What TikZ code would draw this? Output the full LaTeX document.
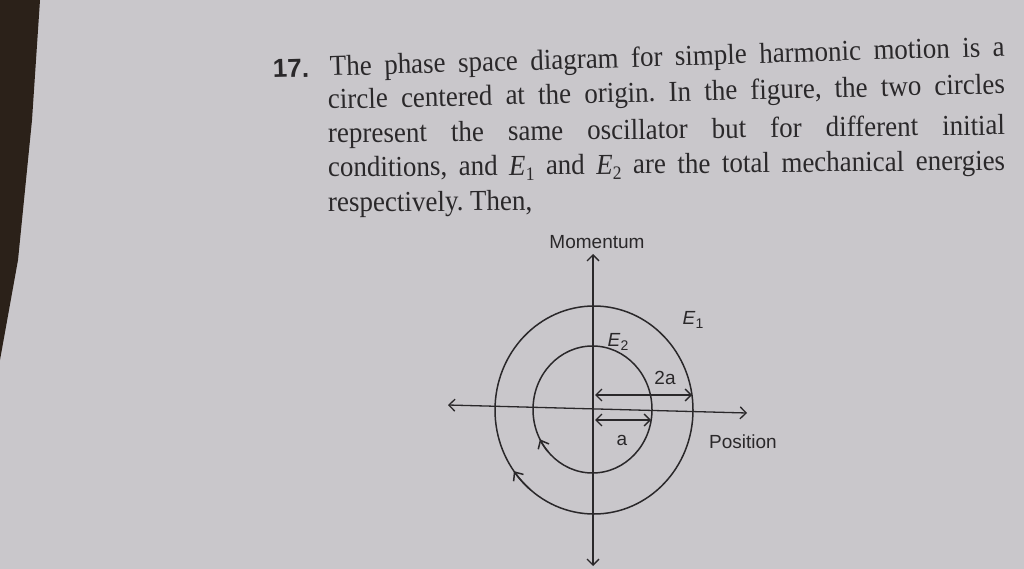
\documentclass[tikz,border=0pt]{standalone}
\usepackage{fontspec}
\setmainfont{Liberation Serif}[FakeStretch=0.93]
\setsansfont{Liberation Sans}
\usetikzlibrary{arrows.meta}
\definecolor{paper}{HTML}{C9C7CB}
\definecolor{ink}{HTML}{2A282A}
\definecolor{desk}{HTML}{2B2119}
\newcommand{\Esub}[1]{\textit{E}\raisebox{-0.4ex}{\fontsize{19}{19}\selectfont #1}}
\newcommand{\Esf}[1]{\textit{E}\raisebox{-0.4ex}{\fontsize{14}{14}\selectfont #1}}
\frenchspacing
\begin{document}
\begin{tikzpicture}[x=1pt,y=-1pt,
  axisline/.style={draw=ink, line width=1.3pt, {Straight Barb[length=6pt,width=12pt]}-{Straight Barb[length=6pt,width=12pt]}},
  orbit/.style={draw=ink, line width=1.5pt},
  flow/.style={draw=ink, line width=1.5pt, -{Straight Barb[length=7pt,width=12pt]}},
  qline/.style={anchor=base west, text=ink, inner sep=0pt, font=\fontsize{29}{32}\selectfont},
  lbl/.style={text=ink, inner sep=0pt, font=\sffamily\fontsize{19}{22}\selectfont}]
\useasboundingbox (0,0) rectangle (1024,569);
\fill[paper] (0,0) rectangle (1024,569);
\fill[desk] (0,0) -- (40,0) -- (32,120) -- (18,260) -- (0,360) -- cycle;

% question text
\node[qline, font=\sffamily\bfseries\fontsize{26}{30}\selectfont, rotate=1.7] (num) at (273,78) {17.};
\node[qline, rotate=1.7] (l1) at (330,76) {\makebox[675pt][s]{The phase space diagram for simple harmonic motion is a}};
\node[qline, rotate=1.3] (l2) at (328,109) {\makebox[677pt][s]{circle centered at the origin. In the figure, the two circles}};
\node[qline, rotate=0.7] (l3) at (328,143) {\makebox[677pt][s]{represent the same oscillator but for different initial}};
\node[qline, rotate=0.6] (l4) at (328,177) {\makebox[677pt][s]{conditions, and \Esub{1} and \Esub{2} are the total mechanical energies}};
\node[qline, rotate=0.5] (l5) at (328,212) {respectively. Then,};

% diagram
\coordinate (C1) at (594,410);
\coordinate (C2) at (592.5,409.5);
\coordinate (xl) at (448,405);
\coordinate (xr) at (747,413);
\coordinate (yt) at (593,254);
\coordinate (yb) at (593,566);
\draw[axisline] (xl) -- (xr);
\draw[axisline] (yb) -- (yt);
\draw[orbit] (C1) ellipse [x radius=99, y radius=104];
\draw[orbit] (C2) ellipse [x radius=59.5, y radius=63.5];
\draw[flow] (C2) ++(138:59.5 and 63.5) arc [start angle=138, end angle=152, x radius=59.5, y radius=63.5];
\draw[flow] (C1) ++(130:99 and 104) arc [start angle=130, end angle=144, x radius=99, y radius=104];

\coordinate (d2s) at (595,395);
\coordinate (d2e) at (692,395);
\coordinate (d1s) at (595,420);
\coordinate (d1e) at (651,420);
\draw[axisline] (d2s) -- (d2e);
\draw[axisline] (d1s) -- (d1e);

\node[lbl] (mom) at (597,242) {Momentum};
\node[lbl] (pos) at (743,442) {Position};
\node[lbl] (e1) at (693,320) {\Esf{1}};
\node[lbl] (e2) at (618,342) {\Esf{2}};
\node[lbl] (twoa) at (665,378) {2a};
\node[lbl] (onea) at (622,440) {a};
\end{tikzpicture}
\end{document}
